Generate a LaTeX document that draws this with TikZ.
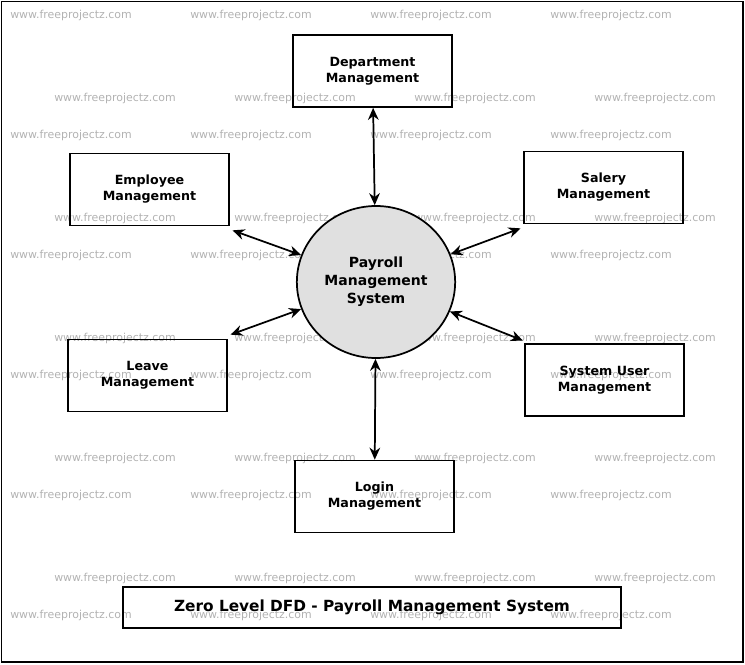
\documentclass[tikz,border=0pt]{standalone}
\usepackage{fontspec}
\setmainfont{DejaVu Sans}
\usetikzlibrary{arrows.meta,shapes.geometric}
\begin{document}
\begin{tikzpicture}[x=0.75pt,y=-0.75pt,
  box/.style={draw,line width=1.3pt,minimum width=159*0.75pt,minimum height=72*0.75pt,align=center,font=\bfseries\fontsize{9.5}{12}\selectfont,fill=none},
  flow/.style={line width=1.3pt,{Stealth[length=9pt,width=8pt]}-{Stealth[length=9pt,width=8pt]}},
  wm/.style={text=black!30,font=\fontsize{8.2}{9}\selectfont,anchor=west,inner sep=0}]
\useasboundingbox (0,0) rectangle (745,664);
\draw[line width=1.3pt] (1.5,1.5) rectangle (743,662);
\foreach \y in {15,135,255,375,495,615} \foreach \x in {10,190,370,550} \node[wm] (w\x-\y) at (\x,\y) {www.freeprojectz.com};
\foreach \y in {98,218,338,458,578} \foreach \x in {54,234,414,594} \node[wm] (v\x-\y) at (\x,\y) {www.freeprojectz.com};
\node[draw,line width=1.3pt,fill=black!12,ellipse,minimum width=156*0.75pt,minimum height=152*0.75pt,align=center,font=\bfseries\fontsize{10.5}{13.5}\selectfont] (pms) at (376,282) {Payroll\\Management\\System};
\node[box] (dep) at (372.5,71) {Department\\Management};
\node[box] (emp) at (149.5,189.5) {Employee\\Management};
\node[box] (sal) at (603.5,187.5) {Salery\\Management};
\node[box] (lea) at (147.5,375.5) {Leave\\Management};
\node[box] (sys) at (604.5,380) {System User\\Management};
\node[box] (log) at (374.5,496.5) {Login\\Management};
\node[draw,line width=1.3pt,minimum width=498*0.75pt,minimum height=41*0.75pt,font=\bfseries\fontsize{11.5}{13}\selectfont] (title) at (372,607.5) {Zero Level DFD - Payroll Management System};
\draw[flow] (dep) -- (pms);
\draw[flow] (log) -- (pms);
\draw[flow] ([xshift=2pt,yshift=-3pt]emp.south east) -- (pms);
\draw[flow] ([xshift=-2pt,yshift=-3pt]sal.south west) -- (pms);
\draw[flow] ([xshift=2pt,yshift=3pt]lea.north east) -- (pms);
\draw[flow] ([xshift=-1pt,yshift=2pt]sys.north west) -- (pms);
\end{tikzpicture}
\end{document}
